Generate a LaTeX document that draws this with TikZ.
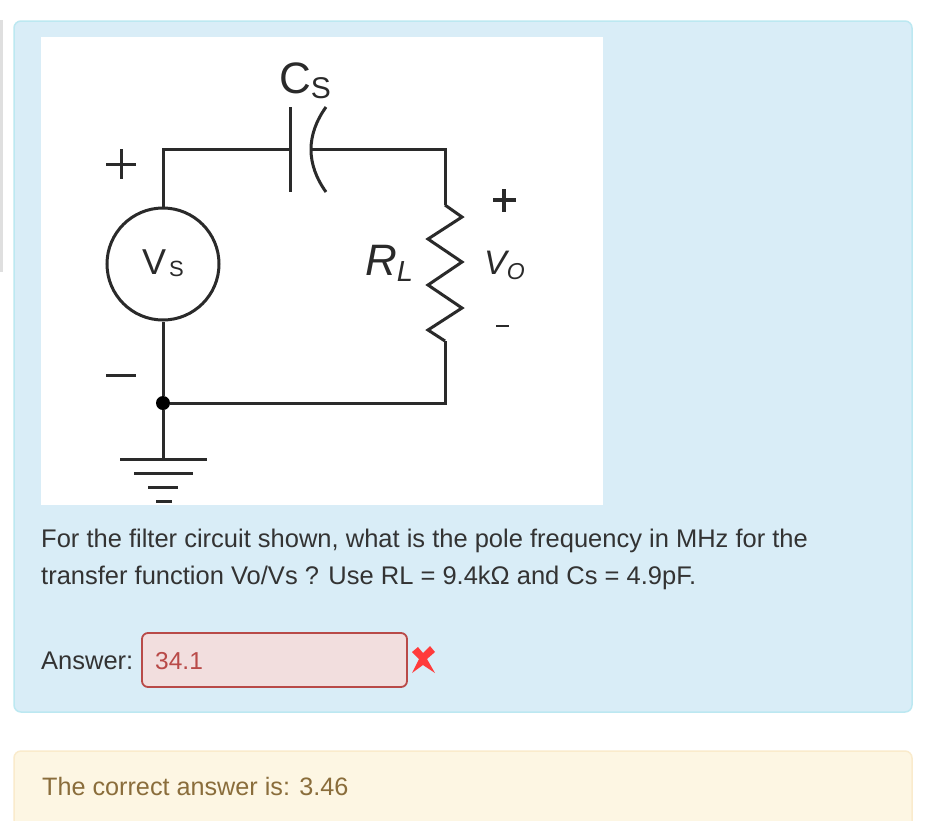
\documentclass[tikz,border=0pt]{standalone}
\usepackage{fontspec}
\setmainfont{Liberation Sans}
\usepackage{xcolor}
\definecolor{infofill}{HTML}{D9EDF7}
\definecolor{infoline}{HTML}{BCE8F1}
\definecolor{warnfill}{HTML}{FDF6E3}
\definecolor{warnline}{HTML}{FAEBCC}
\definecolor{warntext}{HTML}{8A6D3B}
\definecolor{errfill}{HTML}{F2DEDE}
\definecolor{errline}{HTML}{B94A48}
\definecolor{crosscol}{HTML}{FF3B3B}
\definecolor{bodytext}{HTML}{333333}
\definecolor{wirecol}{HTML}{2A2A2A}
\newcommand{\fs}[1]{\fontsize{#1}{#1}\selectfont}

\begin{document}
\begin{tikzpicture}[x=1pt,y=-1pt]
    \tikzstyle{wire}=[draw=wirecol,line width=3pt,line join=miter]
    \tikzstyle{sign}=[draw=wirecol,line width=3pt]
    \tikzstyle{para}=[anchor=base west,inner sep=0pt,text=bodytext,font=\fs{25.5}]
    \tikzstyle{label}=[inner sep=0pt,text=wirecol,anchor=base west]
    \clip (0,0) rectangle (945,820);
    \fill[white] (0,0) rectangle (945,820);
    \fill[gray!25] (0,20) rectangle (3,272);
    \draw[fill=infofill,draw=infoline,line width=1.5pt,rounded corners=7pt] (14,21) rectangle (912,712);
    \draw[fill=warnfill,draw=warnline,line width=1.5pt,rounded corners=7pt] (14,840) -- (14,751) -- (912,751) -- (912,840);
    \fill[white] (41,37) rectangle (603,505);
    % source and top wire
    \node[circle,draw=wirecol,line width=3pt,minimum size=112pt,inner sep=0pt] (vs) at (163,264) {};
    \coordinate (topl) at (163,149);
    \coordinate (capl) at (290,149);
    \coordinate (capr) at (311,149);
    \coordinate (topr) at (445,149);
    \coordinate (rtop) at (445,205);
    \coordinate (rbot) at (445,341);
    \coordinate (botr) at (445,403);
    \node[circle,fill=black,minimum size=14pt,inner sep=0pt] (junc) at (163,403) {};
    \coordinate (gnd) at (163,459);
    \draw[wire] (vs.north) -- (topl) -- (capl);
    \draw[wire] (290,107) -- (290,192);
    \draw[wire] (326,107) .. controls (306,135) and (306,164) .. (326,192);
    \draw[wire] (capr) -- (topr) -- (rtop);
    \draw[wire] (rtop) -- (462,217) -- (428,239) -- (462,262) -- (428,285) -- (462,308) -- (428,330) -- (rbot);
    \draw[wire] (rbot) -- (botr) -- (junc);
    \draw[wire] (vs.south) -- (junc) -- (gnd);
    % ground
    \draw[sign] (120,459) -- (207,459);
    \draw[sign] (134,473) -- (193,473);
    \draw[sign] (148,487) -- (178,487);
    \draw[sign] (156,501) -- (172,501);
    % signs
    \draw[sign] (106,164) -- (136,164) (121,149) -- (121,179);
    \draw[sign] (106,375) -- (136,375);
    \draw[sign,line width=3.2pt] (493,200) -- (516,200) (504,189) -- (504,212);
    \draw[sign,line width=1.8pt] (496,326) -- (509,326);
    % labels
    \node[label,font=\fs{44}] (cs) at (279,93) {C\fs{30}\raisebox{-5pt}{S}};
    \node[label,font=\fs{36}] (vslabel) at (142,274) {V\hspace{3pt}\fs{22}\raisebox{-2pt}{S}};
    \node[label,font=\itshape\fs{44}] (rl) at (365,275) {R\fs{29}\raisebox{-6pt}{L}};
    \node[label,font=\itshape\fs{34}] (vo) at (484,274) {V\fs{23}\raisebox{-5pt}{O}};
    % text
    \node[para] (line1) at (41,547) {For the filter circuit shown, what is the pole frequency in MHz for the};
    \node[para] (line2) at (41,584) {transfer function Vo/Vs ? Use RL = 9.4kΩ and Cs = 4.9pF.};
    \node[para] (answer) at (41,669) {Answer:};
    \draw[fill=errfill,draw=errline,line width=1.8pt,rounded corners=6pt] (142,633) rectangle (407,687);
    \node[para,text=errline,font=\fs{24.5}] (value) at (155,669) {34.1};
    \fill[crosscol] (412,652) -- (418,647) -- (423,653) -- (430,646) -- (435,652) -- (427,659) -- (435,673) -- (423,665) -- (412,673) -- (419,659) -- cycle;
    \node[para,text=warntext,font=\fs{25.2}] (correct) at (42,795) {The correct answer is: 3.46};
\end{tikzpicture}
\end{document}
